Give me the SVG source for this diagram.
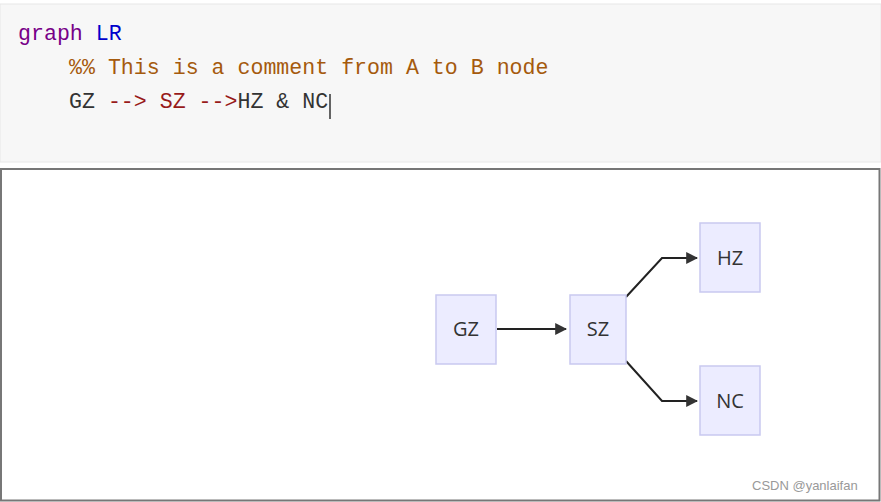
<svg xmlns="http://www.w3.org/2000/svg" width="881" height="502" viewBox="0 0 881 502">
<style>
.code{font-family:"Liberation Mono",monospace;font-size:21.6px}
.n rect{fill:#ececff;stroke:#c9c9f0;stroke-width:1.5}
.n text{font-family:"Open Sans","DejaVu Sans",sans-serif;font-size:20px;fill:#333;text-anchor:middle}
.e{fill:none;stroke:#222;stroke-width:2;marker-end:url(#ah)}
</style>
<defs><marker id="ah" viewBox="0 0 10 10" refX="9" refY="5" markerWidth="6" markerHeight="6" markerUnits="strokeWidth" orient="auto"><path d="M0,0L10,5L0,10z" fill="#333"/></marker></defs>
<rect x="0" y="0" width="881" height="502" fill="#fff"/>
<rect x="0" y="4" width="881" height="158" fill="#f7f7f7" stroke="#e8e8e8"/>
<text class="code" x="18" y="40"><tspan fill="#770088">graph</tspan> <tspan fill="#0000cc">LR</tspan></text>
<text class="code" x="69" y="74" fill="#a55a0d">%% This is a comment from A to B node</text>
<text class="code" x="69" y="108" fill="#333"><tspan>GZ </tspan><tspan fill="#981a1a">--&gt; SZ --&gt;</tspan><tspan>HZ &amp; NC</tspan></text>
<line x1="330" y1="94" x2="330" y2="119" stroke="#000" stroke-width="1.2"/>
<rect x="1" y="169" width="878.5" height="331.5" fill="#fff" stroke="#777" stroke-width="2"/>
<g id="edges">
<path class="e" d="M497,329H566"/>
<path class="e" d="M626,297L662,258H697"/>
<path class="e" d="M626,361L662,401H697"/>
</g>
<g id="GZ" class="n"><rect x="436" y="295" width="60" height="69"/><text x="466" y="336">GZ</text></g>
<g id="SZ" class="n"><rect x="570" y="295" width="56" height="69"/><text x="598" y="336">SZ</text></g>
<g id="HZ" class="n"><rect x="700" y="223" width="60" height="69"/><text x="730" y="265">HZ</text></g>
<g id="NC" class="n"><rect x="700" y="366" width="60" height="69"/><text x="730" y="408">NC</text></g>
<text x="752" y="490" font-family="Liberation Sans,sans-serif" font-size="13" fill="#999">CSDN @yanlaifan</text>
</svg>
